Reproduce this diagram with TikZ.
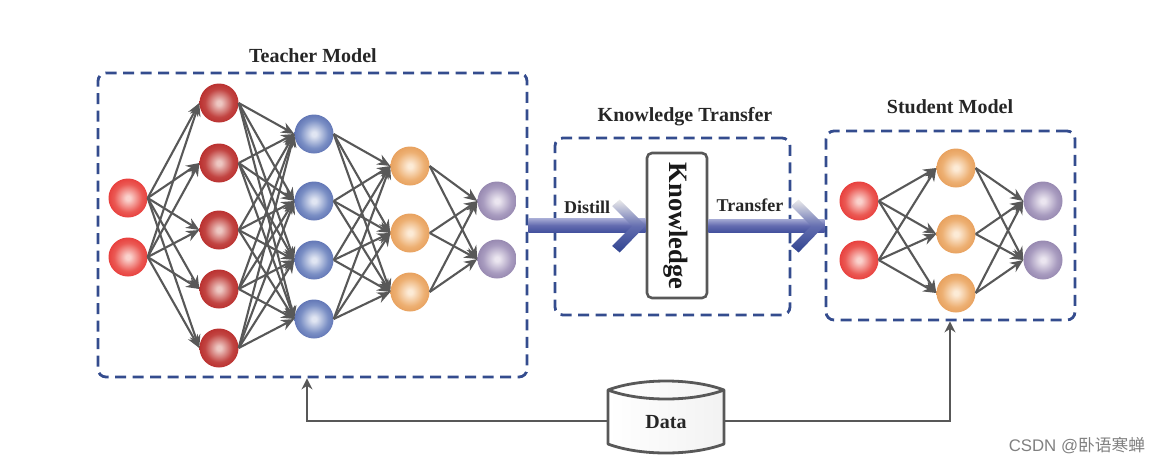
\documentclass[tikz,border=0pt]{standalone}
\usepackage{fontspec}
\setmainfont{Liberation Serif}
\newfontfamily\wmsans{Liberation Sans}
\newfontfamily\wmcjk{Noto Sans CJK SC}
\usetikzlibrary{arrows.meta,calc,shadings}
\definecolor{boxblue}{RGB}{52,76,142}
\definecolor{linegray}{RGB}{88,88,88}
\definecolor{boxgray}{RGB}{88,88,88}
\definecolor{shafttop}{RGB}{165,170,212}
\definecolor{shaftmid}{RGB}{100,108,176}
\definecolor{shaftbot}{RGB}{68,82,158}
\definecolor{chevbot}{RGB}{48,68,144}
\definecolor{chevmid}{RGB}{100,110,176}
\newcommand{\mkball}[4]{%
  \pgfdeclareradialshading{#1}{\pgfpoint{0bp}{0bp}}{%
    rgb(0bp)=(#2);rgb(3bp)=(#2);rgb(18bp)=(#3);rgb(32bp)=(#4);rgb(50bp)=(#4)}}
\mkball{ballred}{0.98,0.82,0.80}{0.92,0.35,0.33}{0.90,0.16,0.16}
\mkball{balldark}{0.93,0.78,0.76}{0.76,0.27,0.26}{0.70,0.12,0.12}
\mkball{ballblue}{0.88,0.90,0.95}{0.48,0.56,0.77}{0.30,0.38,0.66}
\mkball{ballorange}{0.99,0.92,0.84}{0.93,0.69,0.45}{0.89,0.58,0.30}
\mkball{ballpurple}{0.92,0.90,0.94}{0.66,0.61,0.75}{0.53,0.47,0.64}
\tikzset{
  ball/.style={circle,minimum size=39pt,inner sep=0pt,shading=#1},
  link/.style={draw=linegray,line width=2.1pt,-{Stealth[length=13pt,width=11pt]}},
  dashbox/.style={draw=boxblue,line width=2.8pt,rounded corners=8pt,dash pattern=on 11pt off 6.5pt,inner sep=0pt},
  title/.style={font=\bfseries\fontsize{20}{24}\selectfont,text=black!85},
  small/.style={font=\bfseries\fontsize{18}{22}\selectfont,text=black!85},
  feed/.style={draw=linegray,line width=2.6pt,-{Stealth[length=11pt,width=11pt]}},
  shaft/.style={top color=shafttop,bottom color=shaftbot,middle color=shaftmid},
  chevron/.style={top color=black!8,bottom color=chevbot,middle color=chevmid},
}
\newcommand{\fatarrow}[2]{%
  \path[shaft] ($(#1)+(0,-6.5)$) rectangle ($(#2)+(0,6.5)$);
  \path[chevron] (#2) -- ++(-26,-26) -- ++(-7.5,6.5) -- ++(20,20) -- ++(-20,20) -- ++(7.5,6.5) -- cycle;
}
\begin{document}
\begin{tikzpicture}[x=1pt,y=-1pt]
\useasboundingbox (0,0) rectangle (1161,464);
% Teacher layers
\foreach \n/\y in {1/198,2/257} \node[ball=ballred] (A\n) at (128,\y) {};
\foreach \n/\y in {1/103,2/163,3/230,4/289,5/348} \node[ball=balldark] (B\n) at (219,\y) {};
\foreach \n/\y in {1/134,2/201,3/260,4/319} \node[ball=ballblue] (C\n) at (314,\y) {};
\foreach \n/\y in {1/166,2/233,3/292} \node[ball=ballorange] (D\n) at (410,\y) {};
\foreach \n/\y in {1/201,2/259} \node[ball=ballpurple] (E\n) at (497,\y) {};
% Student layers
\foreach \n/\y in {1/201,2/260} \node[ball=ballred] (F\n) at (859,\y) {};
\foreach \n/\y in {1/168,2/234,3/293} \node[ball=ballorange] (G\n) at (956,\y) {};
\foreach \n/\y in {1/201,2/260} \node[ball=ballpurple] (H\n) at (1043,\y) {};
% links
\foreach \a in {1,2} \foreach \b in {1,...,5} \draw[link] (A\a.east) -- (B\b.west);
\foreach \a in {1,...,5} \foreach \b in {1,...,4} \draw[link] (B\a.east) -- (C\b.west);
\foreach \a in {1,...,4} \foreach \b in {1,2,3} \draw[link] (C\a.east) -- (D\b.west);
\foreach \a in {1,2,3} \foreach \b in {1,2} \draw[link] (D\a.east) -- (E\b.west);
\foreach \a in {1,2} \foreach \b in {1,2,3} \draw[link] (F\a.east) -- (G\b.west);
\foreach \a in {1,2,3} \foreach \b in {1,2} \draw[link] (G\a.east) -- (H\b.west);
% boxes
\node[dashbox,minimum width=429pt,minimum height=304pt] (teacher) at (312.5,225) {};
\node[dashbox,minimum width=235pt,minimum height=177pt] (transfer) at (672.5,226.5) {};
\node[dashbox,minimum width=249pt,minimum height=189pt] (student) at (950.5,225.5) {};
\node[draw=boxgray,line width=2.6pt,rounded corners=5pt,fill=white,minimum width=60pt,minimum height=145pt,inner sep=0pt] (know) at (677,225.5) {};
\node[rotate=-90,font=\bfseries\fontsize{26.5}{30}\selectfont,text=black!90] (knowtext) at (676,226) {Knowledge};
% big arrows
\fatarrow{teacher.east}{know.west}
\fatarrow{know.east}{student.west}
% titles
\node[title] (tt) at (313,56) {Teacher Model};
\node[title] (kt) at (685,117) {Knowledge Transfer};
\node[title] (st) at (950,107) {Student Model};
\node[small] (dl) at (587,207) {Distill};
\node[small] (tl) at (750,205) {Transfer};
% data store
\node[title,minimum width=116pt,minimum height=72pt,inner sep=0pt] (data) at (666,421) {};
\path[left color=white,right color=black!5,draw=boxgray,line width=2.8pt,line join=round]
  (608,390) .. controls (640,378) and (692,378) .. (724,390)
  -- (724,444) .. controls (692,456) and (640,456) .. (608,444) -- cycle;
\draw[boxgray,line width=2.8pt] (608,390) .. controls (640,402) and (692,402) .. (724,390);
\node[title] (datatext) at (666,422) {Data};
\coordinate (dl1) at (307,421);
\coordinate (dr1) at (950,421);
\draw[feed] (data.west) -- (dl1) -- (dl1 |- teacher.south);
\draw[feed] (data.east) -- (dr1) -- (dr1 |- student.south);
% watermark
\node[text=black!50,font=\fontsize{16.8}{20}\selectfont] (wm) at (1077,446) {{\wmsans CSDN @}{\wmcjk 卧语寒蝉}};
\end{tikzpicture}
\end{document}
